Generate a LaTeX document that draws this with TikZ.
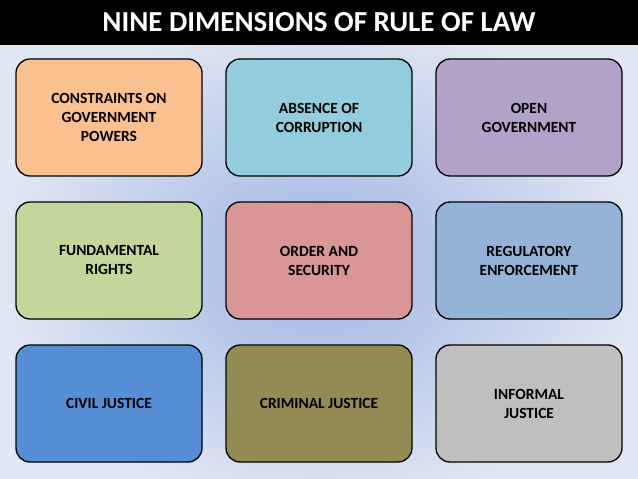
\documentclass[tikz,border=0pt]{standalone}
\usepackage{fontspec}
\setmainfont{Carlito}
\definecolor{bgc}{HTML}{E2E8F3}
\definecolor{glow}{HTML}{9DB4E2}
\definecolor{c1}{HTML}{FAC090}
\definecolor{c2}{HTML}{93CDDD}
\definecolor{c3}{HTML}{B3A2C7}
\definecolor{c4}{HTML}{C3D69B}
\definecolor{c5}{HTML}{D99694}
\definecolor{c6}{HTML}{95B3D7}
\definecolor{c7}{HTML}{558ED5}
\definecolor{c8}{HTML}{948A54}
\definecolor{c9}{HTML}{BFBFBF}
\tikzset{dimbox/.style={draw=black,line width=1.3pt,rounded corners=14pt,minimum width=186pt,minimum height=117pt,align=center,font=\fontsize{15.5}{19}\selectfont\bfseries,text=black}}
\begin{document}
\begin{tikzpicture}[x=1pt,y=-1pt]
\useasboundingbox (0,0) rectangle (638,479);
\fill[bgc] (0,0) rectangle (638,479);
\begin{scope}
\clip (0,45) rectangle (638,479);
\shade[inner color=glow,outer color=bgc] (319,262) ellipse (330 and 260);
\end{scope}
\fill[black] (0,0) rectangle (638,45);
\node[text=white,font=\fontsize{29}{32}\selectfont\bfseries] (title) at (319,22) {NINE DIMENSIONS OF RULE OF LAW};
\node[dimbox,fill=c1] (b1) at (109,117.5) {CONSTRAINTS ON\\GOVERNMENT\\POWERS};
\node[dimbox,fill=c2] (b2) at (319,117.5) {ABSENCE OF\\CORRUPTION};
\node[dimbox,fill=c3] (b3) at (529,117.5) {OPEN\\GOVERNMENT};
\node[dimbox,fill=c4] (b4) at (109,260.5) {FUNDAMENTAL\\RIGHTS};
\node[dimbox,fill=c5] (b5) at (319,260.5) {ORDER AND\\SECURITY};
\node[dimbox,fill=c6] (b6) at (529,260.5) {REGULATORY\\ENFORCEMENT};
\node[dimbox,fill=c7] (b7) at (109,403.5) {CIVIL JUSTICE};
\node[dimbox,fill=c8] (b8) at (319,403.5) {CRIMINAL JUSTICE};
\node[dimbox,fill=c9] (b9) at (529,403.5) {INFORMAL\\JUSTICE};
\end{tikzpicture}
\end{document}
